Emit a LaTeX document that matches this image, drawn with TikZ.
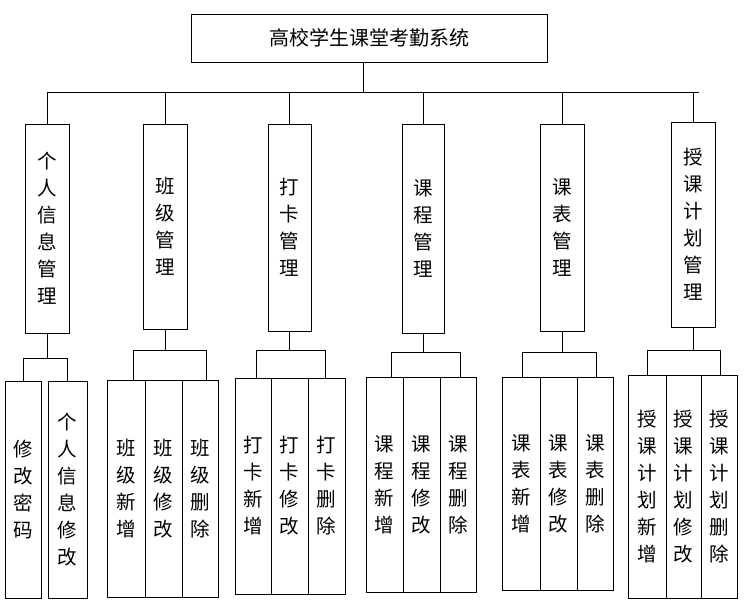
\documentclass[tikz,border=0pt]{standalone}
\usepackage{fontspec}
\setmainfont{Noto Sans CJK SC}
\begin{document}
\begin{tikzpicture}[x=1pt,y=-1pt,line width=0.8pt,
 bx/.style={draw,inner sep=0pt,align=center,font=\fontsize{19.5}{27}\selectfont}]
\useasboundingbox (0,0) rectangle (751,606);
\node[bx,minimum width=356,minimum height=48,font=\fontsize{20}{22}\selectfont] (top) at (369,38) {高校学生课堂考勤系统};
% level 2
\node[bx,minimum width=44,minimum height=209] (a) at (47,228.5) {个\\人\\信\\息\\管\\理};
\node[bx,minimum width=44,minimum height=205] (b) at (165,226.5) {班\\级\\管\\理};
\node[bx,minimum width=43,minimum height=207] (c) at (289.5,227.5) {打\\卡\\管\\理};
\node[bx,minimum width=42,minimum height=209] (d) at (423,228.5) {课\\程\\管\\理};
\node[bx,minimum width=44,minimum height=207] (e) at (562,227.5) {课\\表\\管\\理};
\node[bx,minimum width=44,minimum height=205] (f) at (693,224.5) {授\\课\\计\\划\\管\\理};
\coordinate (bar) at (363,92);
\draw (top.south-|bar) -- (bar);
\foreach \n in {a,b,c,d,e,f} \draw (363,92) -| (\n.north);
\draw (48,92) -- (699,92);
% level 3
\node[bx,minimum width=36,minimum height=217] (a1) at (23,489.5) {修\\改\\密\\码};
\node[bx,minimum width=39,minimum height=217] (a2) at (67.5,489.5) {个\\人\\信\\息\\修\\改};
\node[bx,minimum width=38,minimum height=217] (b1) at (126,488.5) {班\\级\\新\\增};
\node[bx,minimum width=37,minimum height=217] (b2) at (163.5,488.5) {班\\级\\修\\改};
\node[bx,minimum width=36,minimum height=217] (b3) at (200,488.5) {班\\级\\删\\除};
\node[bx,minimum width=36,minimum height=216] (c1) at (253,486) {打\\卡\\新\\增};
\node[bx,minimum width=37,minimum height=216] (c2) at (289.5,486) {打\\卡\\修\\改};
\node[bx,minimum width=37,minimum height=216] (c3) at (326.5,486) {打\\卡\\删\\除};
\node[bx,minimum width=37,minimum height=215] (d1) at (384.5,484.5) {课\\程\\新\\增};
\node[bx,minimum width=37,minimum height=215] (d2) at (421.5,484.5) {课\\程\\修\\改};
\node[bx,minimum width=36,minimum height=215] (d3) at (458,484.5) {课\\程\\删\\除};
\node[bx,minimum width=38,minimum height=213] (e1) at (521,483.5) {课\\表\\新\\增};
\node[bx,minimum width=37,minimum height=213] (e2) at (558.5,483.5) {课\\表\\修\\改};
\node[bx,minimum width=36,minimum height=213] (e3) at (595,483.5) {课\\表\\删\\除};
\node[bx,minimum width=38,minimum height=223] (f1) at (647,486.5) {授\\课\\计\\划\\新\\增};
\node[bx,minimum width=35,minimum height=223] (f2) at (683.5,486.5) {授\\课\\计\\划\\修\\改};
\node[bx,minimum width=36,minimum height=223] (f3) at (719,486.5) {授\\课\\计\\划\\删\\除};
% group connectors
\draw (a.south) -- (47,358); \draw (23,358) -- (67.5,358);
\foreach \n in {a1,a2} \draw (47,358) -| (\n.north);
\draw (b.south) -- (165,350); \draw (133,350) -- (206,350);
\draw (133,350) -- (133,380); \draw (206,350) -- (206,380);
\draw (c.south) -- (289.5,350); \draw (256,350) -- (325,350);
\draw (256,350) -- (256,378); \draw (325,350) -- (325,378);
\draw (d.south) -- (423,352); \draw (391,352) -- (460,352);
\draw (391,352) -- (391,377); \draw (460,352) -- (460,377);
\draw (e.south) -- (562,352); \draw (522,352) -- (596,352);
\draw (522,352) -- (522,377); \draw (596,352) -- (596,377);
\draw (f.south) -- (693,350); \draw (647,350) -- (720,350);
\draw (647,350) -- (647,375); \draw (720,350) -- (720,375);
\end{tikzpicture}
\end{document}
